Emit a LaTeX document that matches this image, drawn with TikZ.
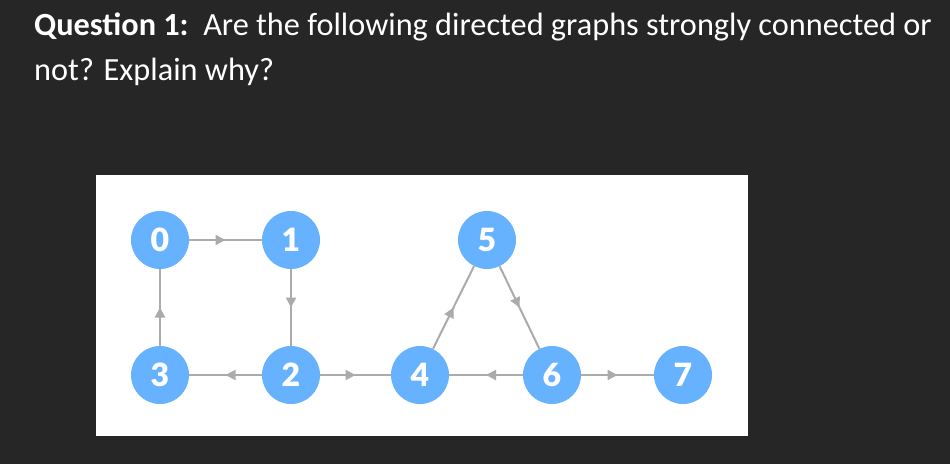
\documentclass[tikz,border=0pt]{standalone}
\usepackage{fontspec}
\setmainfont{Carlito}
\newfontfamily\numfont{Lato Black}
\usetikzlibrary{arrows.meta,decorations.markings}
\definecolor{bgdark}{HTML}{262626}
\definecolor{nodeblue}{HTML}{66B2FF}
\definecolor{edgegray}{HTML}{ABABAB}
\begin{document}
\begin{tikzpicture}[x=1pt,y=-1pt,
    main node/.style={circle,fill=nodeblue,draw=none,minimum size=58pt,inner sep=0pt,
                      text=white,font=\numfont\fontsize{32}{32}\selectfont},
    mid arrow/.style={draw=edgegray,line width=2pt,
                      decoration={markings,mark=at position 0.5 with {\arrow{Triangle[length=10pt,width=10pt]}}},
                      postaction={decorate}}]

  \fill[bgdark] (0,0) rectangle (950,464);
  \fill[white] (96,175) rectangle (748,436);

  \node[anchor=base west,inner sep=0pt,text=white,font=\fontsize{32.3}{34}\selectfont] (q1) at (34,35)
    {\textbf{Question 1:}\ \ Are the following directed graphs strongly connected or};
  \node[anchor=base west,inner sep=0pt,text=white,font=\fontsize{32.3}{34}\selectfont] (q2) at (34,80)
    {not? Explain why?};

  \node[main node] (0) at (160,240) {0};
  \node[main node] (1) at (291,240) {1};
  \node[main node] (5) at (487,240) {5};
  \node[main node] (3) at (160,375) {3};
  \node[main node] (2) at (291,375) {2};
  \node[main node] (4) at (420,375) {4};
  \node[main node] (6) at (552,375) {6};
  \node[main node] (7) at (683,375) {7};

  \path[every edge/.style={mid arrow}]
    (0) edge (1)
    (1) edge (2)
    (2) edge (3)
        edge (4)
    (3) edge (0)
    (4) edge (5)
    (5) edge (6)
    (6) edge (4)
        edge (7)
;
\end{tikzpicture}
\end{document}
